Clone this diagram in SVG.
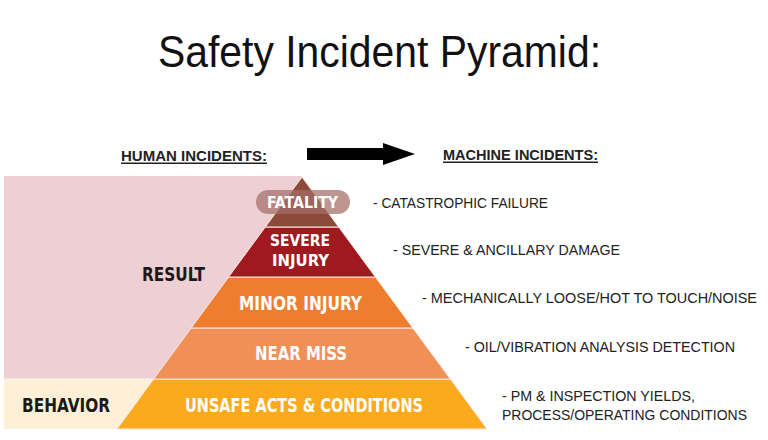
<svg xmlns="http://www.w3.org/2000/svg" width="768" height="440" viewBox="0 0 768 440">
<defs>
<style>
.title{font-family:"Liberation Sans",Arial,sans-serif;font-size:44px;fill:#111}
.hdr{font-family:"Liberation Sans",Arial,sans-serif;font-size:15.5px;font-weight:bold;fill:#222}
.lvl{font-family:"DejaVu Sans Condensed","DejaVu Sans","Liberation Sans",sans-serif;font-stretch:condensed;font-weight:bold;fill:#fff;text-anchor:middle}
.side{font-family:"DejaVu Sans Condensed","DejaVu Sans","Liberation Sans",sans-serif;font-stretch:condensed;font-weight:bold;font-size:20px;fill:#1a1a1a}
.desc{font-family:"Liberation Sans",Arial,sans-serif;font-size:14.5px;fill:#222}
.band{stroke:#fbe9e6;stroke-width:1}
</style>
</defs>
<rect width="768" height="440" fill="#fff"/>
<text class="title" x="158" y="67" textLength="443" lengthAdjust="spacingAndGlyphs">Safety Incident Pyramid:</text>

<g id="header-human">
<text class="hdr" x="121" y="161" textLength="146" lengthAdjust="spacingAndGlyphs">HUMAN INCIDENTS:</text>
<rect x="121" y="162.5" width="146" height="1.5" fill="#222"/>
</g>
<g id="header-machine">
<text class="hdr" x="443" y="160" textLength="155" lengthAdjust="spacingAndGlyphs">MACHINE INCIDENTS:</text>
<rect x="443" y="161.5" width="155" height="1.5" fill="#222"/>
</g>

<g id="connectors">
<polygon points="307,148 383,148 383,143 415,154 383,165 383,160 307,160" fill="#000"/>
</g>

<g id="zone-result">
<rect x="4" y="176" width="298" height="203" fill="#eecfd3"/>
<text class="side" x="142" y="281" textLength="63" lengthAdjust="spacingAndGlyphs">RESULT</text>
</g>
<g id="zone-behavior">
<rect x="4" y="379" width="298" height="50" fill="#fdf0d6"/>
<line x1="4" y1="379" x2="302" y2="379" stroke="#fbf3ef" stroke-width="1"/>
<text class="side" x="22" y="412" textLength="88" lengthAdjust="spacingAndGlyphs">BEHAVIOR</text>
</g>

<g id="level-unsafe">
<polygon class="band" points="153.7,379 450.3,379 487,429 117,429" fill="#fbaa1e"/>
<text class="lvl" x="304" y="412" font-size="19" textLength="238" lengthAdjust="spacingAndGlyphs">UNSAFE ACTS &amp; CONDITIONS</text>
</g>
<g id="level-nearmiss">
<polygon class="band" points="191.2,328 412.8,328 450.3,379 153.7,379" fill="#f08f56"/>
<text class="lvl" x="301" y="360" font-size="19" textLength="92" lengthAdjust="spacingAndGlyphs">NEAR MISS</text>
</g>
<g id="level-minor">
<polygon class="band" points="228.6,277 375.4,277 412.8,328 191.2,328" fill="#ee7e2e"/>
<text class="lvl" x="300.5" y="310" font-size="19" textLength="123" lengthAdjust="spacingAndGlyphs">MINOR INJURY</text>
</g>
<g id="level-severe">
<polygon class="band" points="265.3,227 338.7,227 375.4,277 228.6,277" fill="#9f1a1f"/>
<text class="lvl" x="300" y="246" font-size="16" textLength="60" lengthAdjust="spacingAndGlyphs">SEVERE</text>
<text class="lvl" x="300.5" y="266" font-size="16" textLength="57" lengthAdjust="spacingAndGlyphs">INJURY</text>
</g>
<g id="level-fatality">
<polygon class="band" points="302,177 338.7,227 265.3,227" fill="#8b4a3a"/>
<rect x="256" y="190" width="94" height="24" rx="12" fill="#a56d66" fill-opacity="0.72"/>
<text class="lvl" x="302.5" y="208" font-size="16.5" textLength="71" lengthAdjust="spacingAndGlyphs">FATALITY</text>
</g>

<g id="desc-fatality"><text class="desc" x="373" y="208" textLength="175" lengthAdjust="spacingAndGlyphs">- CATASTROPHIC FAILURE</text></g>
<g id="desc-severe"><text class="desc" x="393" y="255" textLength="227" lengthAdjust="spacingAndGlyphs">- SEVERE &amp; ANCILLARY DAMAGE</text></g>
<g id="desc-minor"><text class="desc" x="422" y="303" textLength="335" lengthAdjust="spacingAndGlyphs">- MECHANICALLY LOOSE/HOT TO TOUCH/NOISE</text></g>
<g id="desc-nearmiss"><text class="desc" x="465" y="352" textLength="270" lengthAdjust="spacingAndGlyphs">- OIL/VIBRATION ANALYSIS DETECTION</text></g>
<g id="desc-unsafe">
<text class="desc" x="502" y="401" textLength="193" lengthAdjust="spacingAndGlyphs">- PM &amp; INSPECTION YIELDS,</text>
<text class="desc" x="502" y="420" textLength="245" lengthAdjust="spacingAndGlyphs">PROCESS/OPERATING CONDITIONS</text>
</g>
</svg>
